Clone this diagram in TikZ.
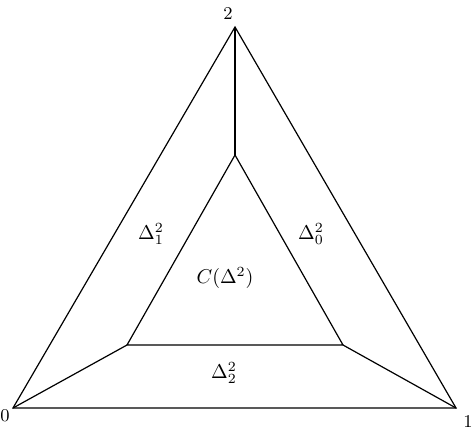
\documentclass[tikz,border=0pt]{standalone}
\begin{document}
\begin{tikzpicture}[x=0.5pt,y=-0.5pt,
  edge/.style={line width=0.6pt,line join=miter},
  vlabel/.style={inner sep=0pt,font=\small},
  flabel/.style={inner sep=0pt}]
\useasboundingbox (0,0) rectangle (474,428);
\coordinate (v0) at (13,408);
\coordinate (v1) at (456,408);
\coordinate (v2) at (235,27);
\coordinate (c2) at (235,155);
\coordinate (c0) at (127,345);
\coordinate (c1) at (343,345);
\draw[edge] (v0) -- (v1) -- (v2) -- cycle;
\draw[edge] (c0) -- (c1) -- (c2) -- cycle;
\draw[edge] (v2) -- (c2);
\draw[edge] (v0) -- (c0);
\draw[edge] (v1) -- (c1);
\node[vlabel] (l2) at (228,14) {2};
\node[vlabel] (l0) at (5,416) {0};
\node[vlabel] (l1) at (468,421) {1};
\node[flabel] (f1) at (151,234) {$\Delta^2_1$};
\node[flabel] (f0) at (311,234) {$\Delta^2_0$};
\node[flabel] (fc) at (225,278) {$C(\Delta^2)$};
\node[flabel] (f2) at (224,373) {$\Delta^2_2$};
\end{tikzpicture}
\end{document}
